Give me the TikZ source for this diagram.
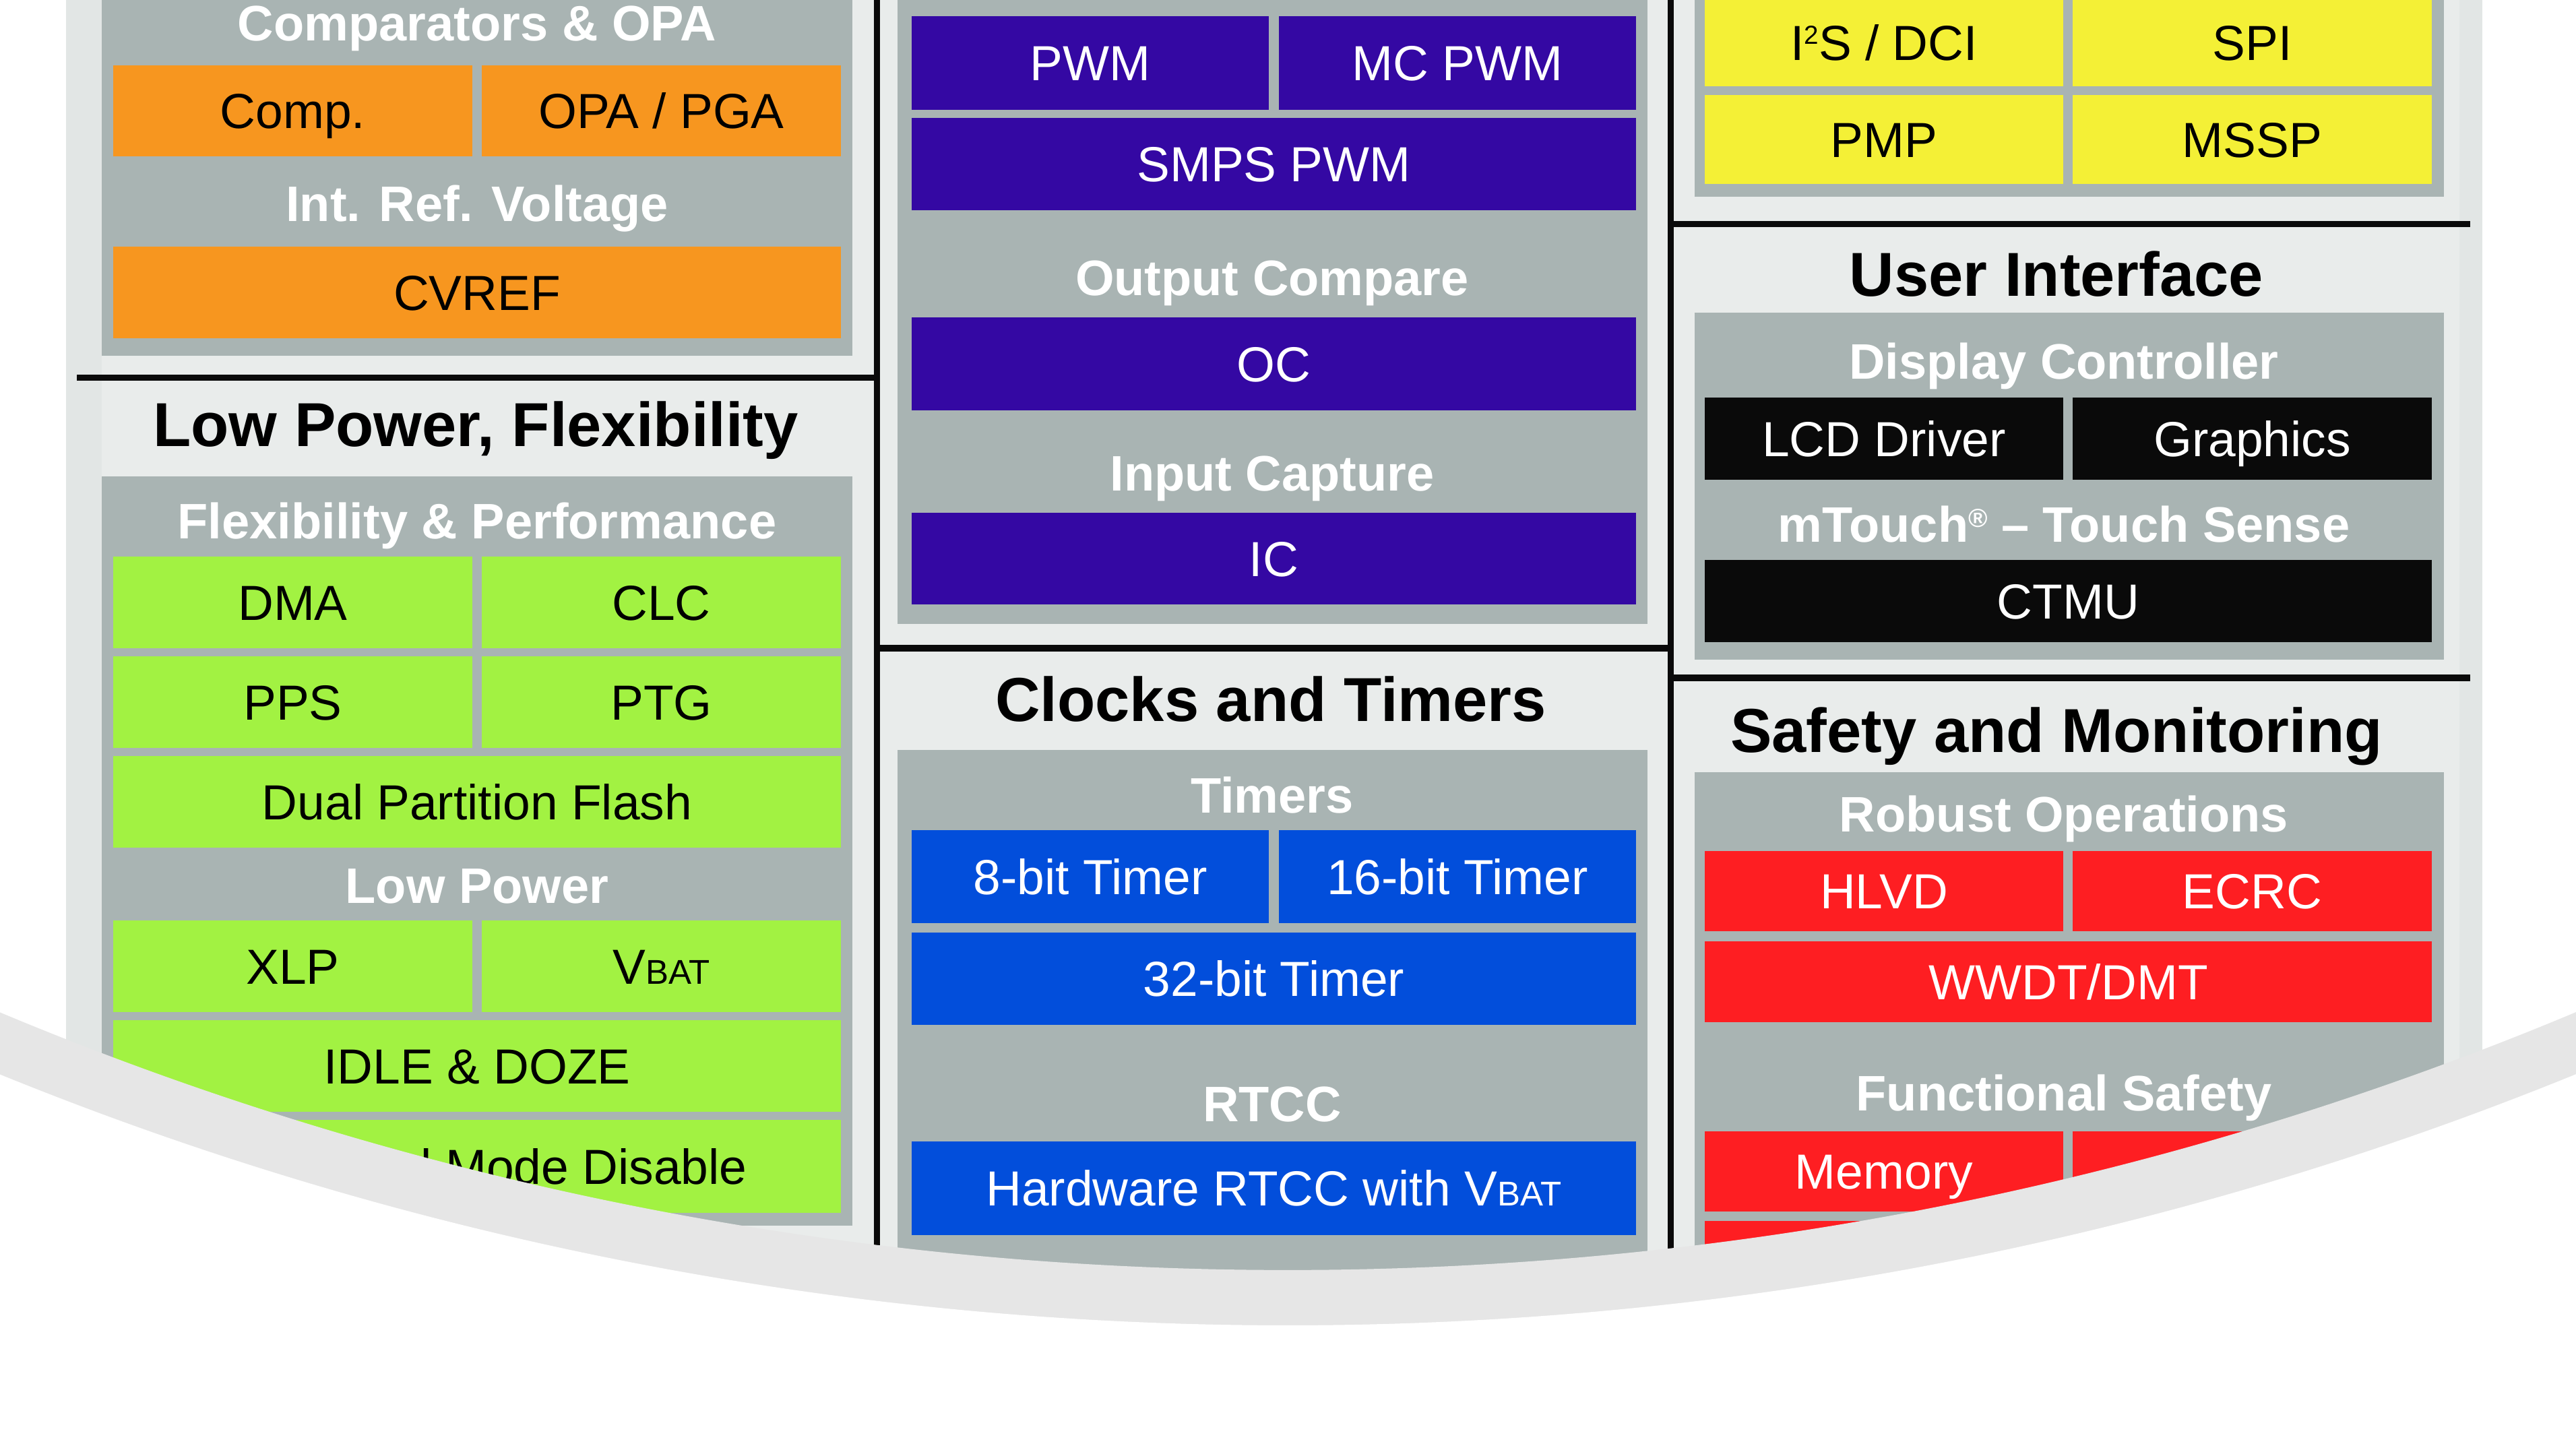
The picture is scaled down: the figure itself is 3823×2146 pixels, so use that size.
\documentclass[tikz,border=0pt]{standalone}
\usepackage{fontspec}
\setmainfont{Liberation Sans}
\definecolor{panelbg}{HTML}{E2E6E5}
\definecolor{innerbg}{HTML}{E9ECEB}
\definecolor{greybox}{HTML}{A9B4B3}
\definecolor{corange}{HTML}{F7961F}
\definecolor{cgreen}{HTML}{A2F242}
\definecolor{cpurple}{HTML}{3408A3}
\definecolor{cblue}{HTML}{024EDB}
\definecolor{cyellow}{HTML}{F4F036}
\definecolor{cred}{HTML}{FE1E22}
\definecolor{cblack}{HTML}{0A0A0A}
\definecolor{arcgrey}{HTML}{E6E6E6}
\newcommand\mkcell[7]{\node[#2, minimum width={(#5-#3)*0.01cm}, minimum height={(#6-#4)*0.01cm}] (#1) at ({(#3+#5)/2},{(#4+#6)/2}) {#7};}
\newcommand\smallbat{{\fontsize{14.5pt}{16pt}\selectfont BAT}}
\tikzset{
  cellbase/.style={inner sep=0pt, outer sep=0pt, font=\fontsize{20.8pt}{24pt}\selectfont, text height=0.523cm, text depth=0cm},
  orangecell/.style={cellbase, fill=corange, text=black},
  greencell/.style={cellbase, fill=cgreen, text=black},
  yellowcell/.style={cellbase, fill=cyellow, text=black},
  purplecell/.style={cellbase, fill=cpurple, text=white},
  bluecell/.style={cellbase, fill=cblue, text=white},
  blackcell/.style={cellbase, fill=cblack, text=white},
  redcell/.style={cellbase, fill=cred, text=white},
  sublabel/.style={inner sep=0pt, outer sep=0pt, font=\bfseries\fontsize{21.05pt}{25pt}\selectfont, text=white, text height=0.53cm, text depth=0cm},
  heading/.style={inner sep=0pt, outer sep=0pt, font=\bfseries\fontsize{26.2pt}{30pt}\selectfont, text=black, text height=0.66cm, text depth=0cm},
  sepline/.style={line width=0.09cm, draw=cblack},
}
\begin{document}
\begin{tikzpicture}[x=0.01cm, y=-0.01cm]
\useasboundingbox (0,0) rectangle (3823,2146);
\clip (0,0) rectangle (3823,2146);
\fill[white] (0,0) rectangle (3823,2146);
% panel backgrounds
\fill[panelbg] (98,-20) rectangle (3684,2160);
\fill[innerbg] (151,-20) rectangle (1296,2160);
\fill[innerbg] (1305,-20) rectangle (2475,2160);
\fill[innerbg] (2484,-20) rectangle (3650,2160);
% grey group boxes
\fill[greybox] (151,-20) rectangle (1265,528);
\fill[greybox] (151,707) rectangle (1265,1819);
\fill[greybox] (1332,-20) rectangle (2445,926);
\fill[greybox] (1332,1113) rectangle (2445,2160);
\fill[greybox] (2515,-20) rectangle (3627,292);
\fill[greybox] (2515,464) rectangle (3627,979);
\fill[greybox] (2515,1146) rectangle (3627,2160);
% ---------------- left column
\node[sublabel] (tcomparators) at (708,34) {Comparators \& OPA};
\mkcell{comp}{orangecell}{168}{97}{701}{232}{Comp.}
\mkcell{opa}{orangecell}{715}{97}{1248}{232}{OPA / PGA}
\node[sublabel] (tintref) at (708,302) {Int. Ref. Voltage};
\mkcell{cvref}{orangecell}{168}{366}{1248}{502}{CVREF}
\node[heading] (hlowpower) at (706,629) {Low Power, Flexibility};
\node[sublabel] (tflex) at (708,773) {Flexibility \& Performance};
\mkcell{dma}{greencell}{168}{826}{701}{962}{DMA}
\mkcell{clc}{greencell}{715}{826}{1248}{962}{CLC}
\mkcell{pps}{greencell}{168}{974}{701}{1110}{PPS}
\mkcell{ptg}{greencell}{715}{974}{1248}{1110}{PTG}
\mkcell{dpf}{greencell}{168}{1122}{1248}{1258}{Dual Partition Flash}
\node[sublabel] (tlowpower) at (708,1314) {Low Power};
\mkcell{xlp}{greencell}{168}{1366}{701}{1502}{XLP}
\mkcell{vbat}{greencell}{715}{1366}{1248}{1502}{V\smallbat}
\mkcell{idle}{greencell}{168}{1514}{1248}{1650}{IDLE \& DOZE}
\mkcell{pmd}{greencell}{168}{1662}{1248}{1800}{Peripheral Mode Disable}
% ---------------- middle column
\mkcell{pwm}{purplecell}{1353}{24}{1883}{163}{PWM}
\mkcell{mcpwm}{purplecell}{1898}{24}{2428}{163}{MC PWM}
\mkcell{smps}{purplecell}{1353}{175}{2428}{312}{SMPS PWM}
\node[sublabel] (toc) at (1888,412) {Output Compare};
\mkcell{oc}{purplecell}{1353}{471}{2428}{609}{OC}
\node[sublabel] (tic) at (1888,702) {Input Capture};
\mkcell{ic}{purplecell}{1353}{761}{2428}{897}{IC}
\node[heading] (hclocks) at (1886,1037) {Clocks and Timers};
\node[sublabel] (ttimers) at (1888,1180) {Timers};
\mkcell{t8}{bluecell}{1353}{1232}{1883}{1370}{8-bit Timer}
\mkcell{t16}{bluecell}{1898}{1232}{2428}{1370}{16-bit Timer}
\mkcell{t32}{bluecell}{1353}{1384}{2428}{1521}{32-bit Timer}
\node[sublabel] (trtcc) at (1888,1638) {RTCC};
\mkcell{hwrtcc}{bluecell}{1353}{1694}{2428}{1833}{Hardware RTCC with V\smallbat}
% ---------------- right column
\mkcell{i2s}{yellowcell}{2530}{-2}{3062}{128}{I\raisebox{0.33em}{\fontsize{11pt}{12pt}\selectfont 2}S / DCI}
\mkcell{spi}{yellowcell}{3076}{-2}{3609}{128}{SPI}
\mkcell{pmp}{yellowcell}{2530}{141}{3062}{273}{PMP}
\mkcell{mssp}{yellowcell}{3076}{141}{3609}{273}{MSSP}
\node[heading] (hui) at (3052,406) {User Interface};
\node[sublabel] (tdisp) at (3063,536) {Display Controller};
\mkcell{lcd}{blackcell}{2530}{590}{3062}{712}{LCD Driver}
\mkcell{gfx}{blackcell}{3076}{590}{3609}{712}{Graphics}
\node[sublabel] (tmtouch) at (3063,778) {mTouch\raisebox{0.3em}{\fontsize{11pt}{12pt}\selectfont ®} – Touch Sense};
\mkcell{ctmu}{blackcell}{2530}{831}{3609}{953}{CTMU}
\node[heading] (hsafety) at (3052,1083) {Safety and Monitoring};
\node[sublabel] (trobust) at (3063,1208) {Robust Operations};
\mkcell{hlvd}{redcell}{2530}{1263}{3062}{1382}{HLVD}
\mkcell{ecrc}{redcell}{3076}{1263}{3609}{1382}{ECRC}
\mkcell{wwdt}{redcell}{2530}{1397}{3609}{1517}{WWDT/DMT}
\node[sublabel] (tfunc) at (3063,1622) {Functional Safety};
\mkcell{mem}{redcell}{2530}{1679}{3062}{1798}{Memory}
\mkcell{fsb}{redcell}{3076}{1679}{3609}{1798}{}
\mkcell{fsc}{redcell}{2530}{1812}{3062}{1930}{}
\mkcell{fsd}{redcell}{3076}{1812}{3609}{1930}{}
% ---------------- separator lines
\draw[sepline] (1301,-20) -- (1301,2160);
\draw[sepline] (2479,-20) -- (2479,2160);
\draw[sepline] (114,561) -- (1301,561);
\draw[sepline] (1301,962) -- (2479,962);
\draw[sepline] (2479,333) -- (3666,333);
\draw[sepline] (2479,1006) -- (3666,1006);
% ---------------- arc band and white cut-out
\fill[arcgrey, even odd rule] (-20,-20) rectangle (3843,2166) (1911,-3065) circle[radius=49.47cm];
\fill[white, even odd rule] (-20,-20) rectangle (3843,2166) (1911,-3105) circle[radius=50.69cm];
\end{tikzpicture}
\end{document}
